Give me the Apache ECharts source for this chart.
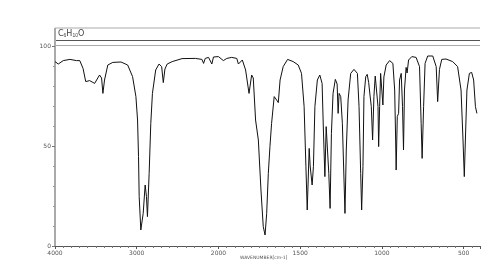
<!DOCTYPE html>
<html>
<head>
<meta charset="utf-8">
<script src="https://cdn.jsdelivr.net/npm/echarts@6/dist/echarts.min.js"></script>
<style>html,body{margin:0;padding:0;background:#fff}#c{width:495px;height:269px}</style>
</head>
<body>
<div id="c"></div>
<script>
// Wavenumbers (cm-1) and transmittance (%)
var wavenumbers = [4000,3960,3899,3818,3737,3697,3657,3624,3576,3515,3455,3430,3414,3394,3354,3293,3192,3111,3051,3010,2990,2978,2970,2950,2921,2897,2881,2869,2848,2828,2808,2768,2727,2695,2675,2655,2627,2566,2445,2283,2202,2182,2162,2121,2081,2061,2000,
1970,1949,1919,1888,1878,1868,1854,1834,1813,1797,1787,1773,1756,1740,1726,1715,1705,1695,1685,1675,1659,1644,1634,1623,1604,1577,1543,1512,1492,1476,1465,1457,1451,1445,1439,1427,1419,1410,1395,1380,1366,1358,1349,1341,1333,1325,1317,1309,1299,1285,1274,1268,1262,1252,1242,1232,1226,1218,1207,1191,1171,1150,1140,1130,1124,1116,1110,1099,1090,1081,1073,1065,1057,1049,1041,1032,1024,1020,1014,1008,1000,994,988,974,953,933,922,916,913,906,898,892,882,874,868,862,852,846,837,817,791,770,760,754,745,736,720,689,668,659,648,634,608,567,537,516,504,496,488,480,465,451,439,428,419];
var transmittance = [92.2,91,92.7,93.3,92.7,92.7,88.8,82.2,82.7,81.3,85.5,84,76.3,83,90.5,91.8,92,90.5,84.7,74.7,63,44.7,24.7,8,16.3,30.5,24.7,14.7,36.3,61.3,76.3,88,91,89.7,81.7,88.5,91,92.2,93.7,93.8,93.3,91.3,93.8,94.3,91,94.5,94.7,
92.7,93.8,94.3,93.8,91,92,93,88,76.3,85.5,84,63,53,28,9.7,5.5,16.3,36.3,49.7,61.3,74.7,73,71.7,83,89.7,93.3,92.2,90.5,86.3,69.7,39.7,18,33,48.8,40,30.5,39.7,69.7,83,85.5,81.3,58,34.7,59.7,60,36.3,18.8,56.3,76.3,83.3,81,66.3,76.3,74.7,61.3,33,16.3,48,73,86.3,88.3,86.3,69.7,36.3,18,39.7,74.7,84.7,85.8,81.7,75.5,69.7,53,74.7,85,85.8,69.7,49.7,69.7,86.3,86.3,70.5,84.5,90.5,92.7,91.3,78,53,38,64.7,66.3,83,86.3,69.7,48,78,89.3,86.5,93,94.7,94.3,89.7,61.3,43.8,69.7,91.3,95,95,89.7,72.2,88.3,93.3,93.5,92.2,89.7,78,53,34.7,57,78,86.3,86.8,83,69.7,66.3];
var xTickLabels = [4000,3000,2000,1500,1000,500];
var yTickLabels = [0,50,100];

// piecewise wavenumber scale: 4000-2000 compressed, 2000-400 expanded
function toAxis(w){ return w >= 2000 ? (4000 - w) / 1000 : 2 + (2000 - w) / 500; }
function fromAxis(v){ return v <= 2 ? 4000 - v * 1000 : 2000 - (v - 2) * 500; }

var pts = wavenumbers.map(function(w, i){ return [toAxis(w), transmittance[i]]; });

var chart = echarts.init(document.getElementById('c'));
chart.setOption({
  animation: false,
  backgroundColor: '#fff',
  grid: {left: 55, right: 15, top: 46, bottom: 23},
  xAxis: {
    type: 'value', min: toAxis(4000), max: toAxis(400), interval: 1,
    axisLine: {show: true, lineStyle: {color: '#555', width: 1}},
    axisTick: {show: true, length: 3, lineStyle: {color: '#555'}},
    minorTick: {show: true, splitNumber: 10, length: 2, lineStyle: {color: '#777'}},
    splitLine: {show: false},
    axisLabel: {
      fontSize: 6, color: '#555', margin: 4, fontFamily: 'DejaVu Sans',
      formatter: function(v){
        var w = Math.round(fromAxis(v));
        return xTickLabels.indexOf(w) >= 0 ? String(w) : '';
      }
    }
  },
  yAxis: {
    type: 'value', min: 0, max: 100, interval: 50,
    axisLine: {show: true, lineStyle: {color: '#aaa', width: 2}},
    axisTick: {show: true, length: 3, lineStyle: {color: '#777'}},
    minorTick: {show: true, splitNumber: 5, length: 2, lineStyle: {color: '#999'}},
    splitLine: {show: false},
    axisLabel: {
      fontSize: 6, color: '#555', margin: 4, fontFamily: 'DejaVu Sans',
      formatter: function(v){ return yTickLabels.indexOf(v) >= 0 ? String(v) : ''; }
    }
  },
  series: [{
    type: 'line', data: pts, showSymbol: false, smooth: false,
    lineStyle: {color: '#111', width: 1}
  }],
  graphic: [
    {type: 'line', shape: {x1: 55, y1: 28, x2: 480, y2: 28}, style: {stroke: '#aaa', lineWidth: 1}},
    {type: 'line', shape: {x1: 55, y1: 40.5, x2: 480, y2: 40.5}, style: {stroke: '#555', lineWidth: 1}},
    {type: 'line', shape: {x1: 55, y1: 45.5, x2: 480, y2: 45.5}, style: {stroke: '#aaa', lineWidth: 1}},
    {type: 'line', shape: {x1: 55, y1: 28, x2: 55, y2: 46}, style: {stroke: '#aaa', lineWidth: 2}},
    {type: 'text', left: 58, top: 30, style: {
      text: 'C{s|6}H{s|10}O', fill: '#444', font: '8px "DejaVu Sans"',
      rich: {s: {fontSize: 5, fill: '#444', verticalAlign: 'bottom', padding: [4,0,0,0]}}
    }},
    {type: 'text', left: 240, top: 255, style: {
      text: 'WAVENUMBER[cm-1]', fill: '#555', font: '4.5px "DejaVu Sans"'
    }}
  ]
});
</script>
</body>
</html>
